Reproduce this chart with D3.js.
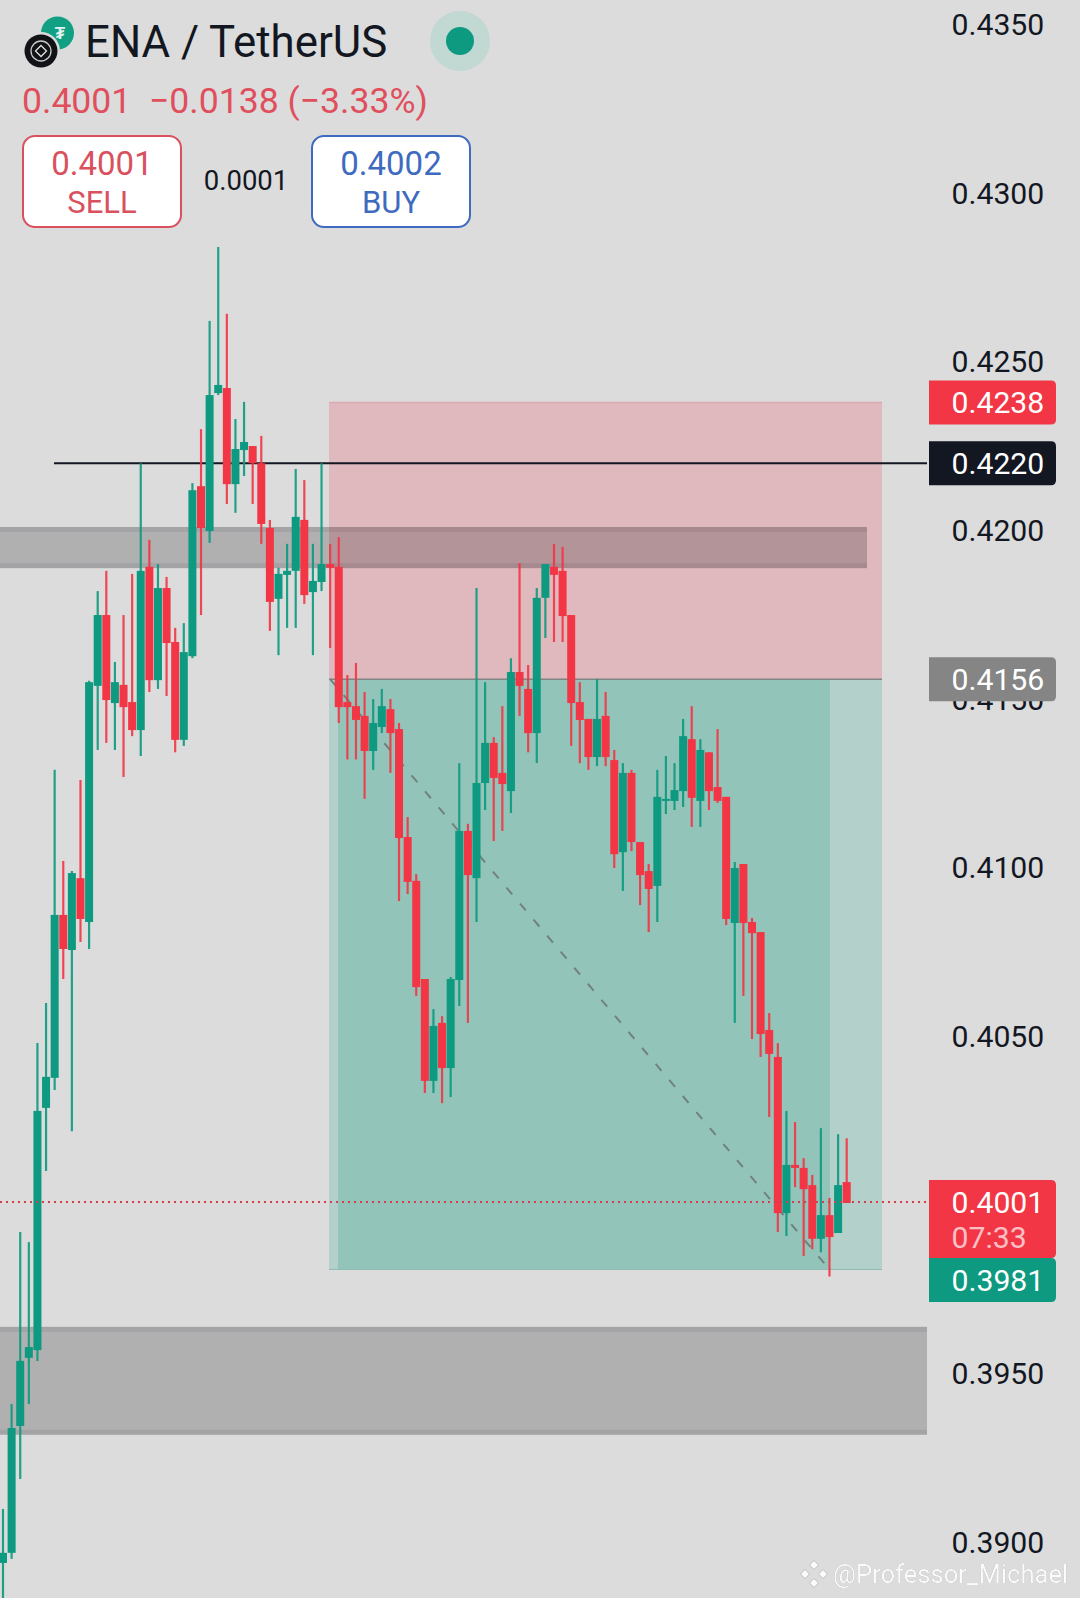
<!DOCTYPE html>
<html>
<head>
<meta charset="utf-8">
<script src="https://cdn.jsdelivr.net/npm/d3@7"></script>
<style>
  html, body { margin: 0; padding: 0; background: #dcdcdc; }
  svg { display: block; font-family: Roboto, sans-serif; }
</style>
</head>
<body>
<svg id="chart" width="1080" height="1598"></svg>
<script>
// candles, oldest first
const opens = [.38940,.38970,.39346,.39548,.39571,.40289,.40378,.40861,.40757,.40970,
  .40840,.41540,.41750,.41489,.41543,.41492,.41409,.41893,.41557,.41830,
  .41670,.41380,.41628,.42132,.41999,.42408,.42423,.42138,.42239,.42251,
  .42200,.42008,.41798,.41869,.41881,.42032,.41818,.41848,.41901,.41893,
  .41492,.41480,.41451,.41347,.41418,.41471,.41412,.41092,.40962,.40671,
  .40369,.40541,.40407,.40668,.41110,.40970,.41252,.41371,.41282,.41228,
  .41581,.41531,.41400,.41801,.41893,.41881,.41750,.41492,.41442,.41329,
  .41451,.41320,.41047,.41282,.41077,.40991,.40947,.41199,.41199,.41228,
  .41382,.41199,.41343,.41240,.41211,.40837,.41012,.40840,.40810,.40520,
  .40440,.39977,.40120,.40111,.40060,.39901,.39971,.39918,.40069];
const closes = [.38970,.39340,.39539,.39580,.40280,.40381,.40861,.40760,.40985,.40849,
  .41551,.41750,.41498,.41551,.41477,.41409,.41881,.41557,.41830,.41667,
  .41380,.41640,.42120,.42008,.42402,.42432,.42138,.42242,.42263,.42200,
  .42020,.41789,.41872,.41881,.42041,.41809,.41851,.41901,.41890,.41477,
  .41477,.41439,.41347,.41430,.41480,.41400,.41089,.40959,.40647,.40369,
  .40532,.40407,.40671,.41110,.40979,.41252,.41371,.41267,.41249,.41581,
  .41540,.41400,.41801,.41901,.41869,.41747,.41489,.41439,.41329,.41442,
  .41329,.41041,.41282,.41077,.40979,.40938,.41211,.41205,.41231,.41391,
  .41208,.41350,.41228,.41199,.40849,.41000,.40837,.40807,.40508,.40449,
  .39977,.40120,.40111,.40048,.39901,.39971,.39906,.40060,.40007];
const highs = [.39100,.39411,.39921,.39891,.40481,.40600,.41291,.41021,.40991,.41261,
  .41555,.41821,.41881,.41611,.41750,.41872,.42200,.41973,.41901,.41863,
  .41712,.41726,.42141,.42301,.42622,.42841,.42643,.42331,.42382,.42251,
  .42281,.42032,.41890,.41961,.42183,.42150,.41961,.42200,.41961,.41981,
  .41572,.41608,.41522,.41501,.41531,.41501,.41430,.41151,.40982,.40671,
  .40582,.40561,.40677,.41311,.41131,.41830,.41551,.41388,.41480,.41622,
  .41904,.41602,.41830,.41901,.41961,.41952,.41750,.41551,.41442,.41560,
  .41522,.41350,.41311,.41291,.41077,.41012,.41291,.41332,.41311,.41442,
  .41480,.41382,.41343,.41412,.41211,.41018,.41012,.40852,.40810,.40570,
  .40481,.40280,.40247,.40140,.40090,.40229,.40022,.40211,.40199];
const lows = [.38836,.38952,.39189,.39411,.39539,.40102,.40342,.40671,.40220,.40781,
  .40760,.41350,.41371,.41350,.41270,.41391,.41332,.41522,.41531,.41510,
  .41343,.41362,.41622,.41750,.41964,.42402,.42079,.42053,.42162,.42079,
  .41961,.41703,.41631,.41712,.41712,.41783,.41631,.41821,.41652,.41430,
  .41322,.41322,.41205,.41291,.41400,.41282,.40902,.40923,.40621,.40333,
  .40333,.40303,.40321,.40591,.40541,.40840,.41172,.41080,.41110,.41163,
  .41451,.41343,.41311,.41682,.41670,.41670,.41362,.41311,.41291,.41302,
  .41302,.41000,.40932,.41050,.40890,.40810,.40840,.41160,.41172,.41181,
  .41122,.41122,.41172,.41193,.40831,.40541,.40621,.40493,.40440,.40262,
  .39921,.39909,.40054,.39850,.39870,.39861,.39789,.39918,.40007];

const priceTicks = [.435,.43,.425,.42,.415,.41,.405,.40,.395,.39];

// levels
const stopPrice = 0.4238;
const linePrice = 0.4220;
const entryPrice = 0.4156;
const lastPrice = 0.4001;
const targetPrice = 0.3981;
const upperBand = [0.42011, 0.41889];
const lowerBand = [0.39640, 0.39320];

const GREEN = "#0d9a80";
const RED = "#f23645";

const svg = d3.select("#chart");

const xScale = d3.scaleLinear().domain([0, 98]).range([3, 846.7]);
const yScale = d3.scaleLinear().domain([0.39, 0.435]).range([1542.7, 24.7]);

const plotEnd = 927;
const zoneStart = xScale.invert(329);
const zoneInner = xScale.invert(338);
const zoneFade = xScale.invert(830);
const zoneEnd = xScale.invert(882);

svg.append("rect").attr("width", 1080).attr("height", 1598).attr("fill", "#dcdcdc");

// position tool
const zoneRect = (x0, x1, p0, p1, fill) =>
  svg.append("rect")
    .attr("x", xScale(x0))
    .attr("y", yScale(p0))
    .attr("width", xScale(x1) - xScale(x0))
    .attr("height", yScale(p1) - yScale(p0))
    .attr("fill", fill);

zoneRect(zoneStart, zoneEnd, stopPrice, entryPrice, "#e0b9be");
zoneRect(zoneStart, zoneEnd, entryPrice, targetPrice, "#b3d0ca");
zoneRect(zoneInner, zoneFade, entryPrice, targetPrice, "#92c4ba");

svg.append("line")
  .attr("x1", xScale(zoneStart)).attr("x2", xScale(zoneEnd))
  .attr("y1", yScale(stopPrice)).attr("y2", yScale(stopPrice))
  .attr("stroke", "#dba9af").attr("stroke-width", 1.5);
svg.append("line")
  .attr("x1", xScale(zoneStart)).attr("x2", xScale(zoneEnd))
  .attr("y1", yScale(entryPrice)).attr("y2", yScale(entryPrice))
  .attr("stroke", "#7f8583").attr("stroke-width", 1.5);
svg.append("line")
  .attr("x1", xScale(zoneStart)).attr("x2", xScale(zoneEnd))
  .attr("y1", yScale(targetPrice)).attr("y2", yScale(targetPrice))
  .attr("stroke", "#8fbdb3").attr("stroke-width", 1);

svg.append("line")
  .attr("x1", xScale(38)).attr("x2", xScale(96))
  .attr("y1", yScale(entryPrice)).attr("y2", yScale(targetPrice))
  .attr("stroke", "#71827d").attr("stroke-width", 2)
  .attr("stroke-dasharray", "9 12");

// gray bands
const bandRect = (band, x1) => {
  const top = yScale(band[0]);
  const bottom = yScale(band[1]);
  svg.append("rect")
    .attr("x", 0).attr("y", top)
    .attr("width", x1).attr("height", bottom - top)
    .attr("fill", "rgba(0,0,0,0.2)");
  [top, bottom - 5].forEach((y) => {
    svg.append("rect")
      .attr("x", 0).attr("y", y)
      .attr("width", x1).attr("height", 5)
      .attr("fill", "rgba(20,20,40,0.07)");
  });
};
bandRect(upperBand, 867);
bandRect(lowerBand, plotEnd);

svg.append("line")
  .attr("x1", 54).attr("x2", plotEnd)
  .attr("y1", yScale(linePrice)).attr("y2", yScale(linePrice))
  .attr("stroke", "#131722").attr("stroke-width", 1.8);

// candles
const candleData = opens.map((o, i) => ({
  i, open: o, close: closes[i], high: highs[i], low: lows[i],
}));
const candleColor = (d) => (d.close >= d.open ? GREEN : RED);

svg.append("g").selectAll("line")
  .data(candleData)
  .join("line")
  .attr("x1", (d) => xScale(d.i))
  .attr("x2", (d) => xScale(d.i))
  .attr("y1", (d) => yScale(d.high))
  .attr("y2", (d) => yScale(d.low))
  .attr("stroke", candleColor)
  .attr("stroke-width", 2.2)
  .attr("opacity", 0.9);

svg.append("g").selectAll("rect")
  .data(candleData)
  .join("rect")
  .attr("x", (d) => xScale(d.i) - 4)
  .attr("width", 8)
  .attr("y", (d) => yScale(Math.max(d.open, d.close)))
  .attr("height", (d) => Math.max(1.5, Math.abs(yScale(d.open) - yScale(d.close))))
  .attr("fill", candleColor);

// last price
svg.append("line")
  .attr("x1", 0).attr("x2", plotEnd)
  .attr("y1", yScale(lastPrice)).attr("y2", yScale(lastPrice))
  .attr("stroke", "#d93c4b").attr("stroke-width", 2)
  .attr("stroke-dasharray", "2 4");

// price scale
const axis = d3.axisRight(yScale)
  .tickValues(priceTicks)
  .tickFormat(d3.format(".4f"))
  .tickSize(0)
  .tickPadding(0);
const axisG = svg.append("g").attr("transform", "translate(951.5,0)").call(axis);
axisG.select(".domain").remove();
axisG.selectAll("text")
  .attr("fill", "#131722")
  .attr("font-family", "Roboto, sans-serif")
  .attr("font-size", 30.2);

// right labels, square on the left and rounded on the right
const labelBox = (y0, h, fill) => {
  const x0 = 929, x1 = 1056, r = 5;
  svg.append("path")
    .attr("d", `M${x0},${y0}H${x1 - r}Q${x1},${y0} ${x1},${y0 + r}V${y0 + h - r}Q${x1},${y0 + h} ${x1 - r},${y0 + h}H${x0}Z`)
    .attr("fill", fill);
};
const labelText = (str, y, fill) =>
  svg.append("text")
    .attr("x", 951.5).attr("y", y).attr("dy", "0.36em")
    .attr("font-size", 30.2).attr("fill", fill)
    .text(str);

const priceFmt = d3.format(".4f");
[[stopPrice, RED], [linePrice, "#131722"], [entryPrice, "#858585"]].forEach(([p, fill]) => {
  labelBox(yScale(p) - 22, 44, fill);
  labelText(priceFmt(p), yScale(p), "#ffffff");
});

labelBox(yScale(lastPrice) - 22, 78, RED);
labelText(priceFmt(lastPrice), yScale(lastPrice), "#ffffff");
labelText("07:33", yScale(lastPrice) + 35, "#fbc0c6");
labelBox(1258, 44, GREEN);
labelText(priceFmt(targetPrice), 1280, "#ffffff");

// header
svg.append("circle").attr("cx", 57.5).attr("cy", 33).attr("r", 16.5).attr("fill", "#12a085");
svg.append("text").attr("x", 60).attr("y", 39).attr("text-anchor", "middle")
  .attr("font-size", 17).attr("font-weight", 700).attr("fill", "#dff2ee").text("₮");
svg.append("circle").attr("cx", 41).attr("cy", 51).attr("r", 19).attr("fill", "#dcdcdc");
svg.append("circle").attr("cx", 41).attr("cy", 51).attr("r", 16.5).attr("fill", "#111316");
svg.append("circle").attr("cx", 41).attr("cy", 51).attr("r", 10).attr("fill", "none")
  .attr("stroke", "#c9c9c9").attr("stroke-width", 1.3);
svg.append("path").attr("d", "M41,45.5L46.5,51L41,56.5L35.5,51Z").attr("fill", "none")
  .attr("stroke", "#e2e2e2").attr("stroke-width", 1.3);

svg.append("text").attr("x", 85).attr("y", 57)
  .attr("font-size", 43.8).attr("fill", "#131722").text("ENA / TetherUS");

svg.append("circle").attr("cx", 460).attr("cy", 41).attr("r", 30).attr("fill", "#c2d8d3");
svg.append("circle").attr("cx", 460).attr("cy", 41).attr("r", 14).attr("fill", "#0d9a80");

svg.append("text").attr("x", 22).attr("y", 113)
  .attr("font-size", 35.6).attr("fill", "#e04f5c").text("0.4001");
svg.append("text").attr("x", 149).attr("y", 113)
  .attr("font-size", 35.6).attr("fill", "#e04f5c").text("−0.0138 (−3.33%)");

const quoteBox = (x, stroke, price, side) => {
  svg.append("rect")
    .attr("x", x).attr("y", 136).attr("width", 158).attr("height", 91).attr("rx", 12)
    .attr("fill", "#ffffff").attr("stroke", stroke).attr("stroke-width", 2);
  svg.append("text").attr("x", x + 79).attr("y", 175).attr("text-anchor", "middle")
    .attr("font-size", 33).attr("fill", stroke).text(price);
  svg.append("text").attr("x", x + 79).attr("y", 213).attr("text-anchor", "middle")
    .attr("font-size", 31).attr("fill", stroke).text(side);
};
quoteBox(23, "#d9505e", "0.4001", "SELL");
quoteBox(312, "#3e6bc0", "0.4002", "BUY");
svg.append("text").attr("x", 246).attr("y", 190).attr("text-anchor", "middle")
  .attr("font-size", 27.5).attr("fill", "#131722").text("0.0001");

// watermark
const mark = svg.append("g").attr("transform", "translate(814,1574)")
  .attr("fill", "#fbfbfb").attr("stroke", "#a0a0a0").attr("stroke-width", 0.6);
[[0, -9], [-9, 0], [9, 0], [0, 9]].forEach(([dx, dy]) => {
  mark.append("path")
    .attr("d", `M${dx},${dy - 4.5}L${dx + 4.5},${dy}L${dx},${dy + 4.5}L${dx - 4.5},${dy}Z`);
});
svg.append("text").attr("x", 833).attr("y", 1583)
  .attr("font-size", 25.6).attr("fill", "#fbfbfb")
  .style("filter", "drop-shadow(0.8px 0.8px 0.4px #8e8e8e)")
  .text("@Professor_Michael");
</script>
</body>
</html>
